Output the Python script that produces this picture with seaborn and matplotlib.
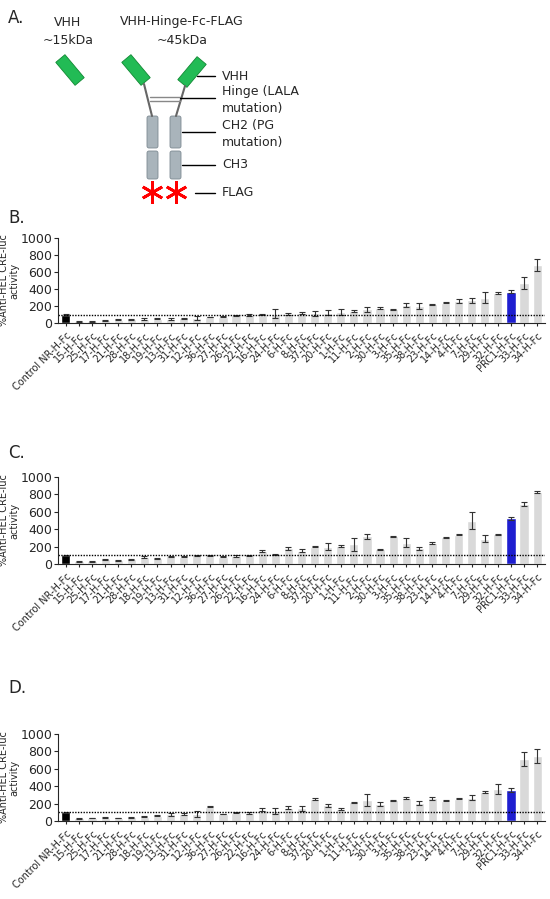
import numpy as np
import pandas as pd
import matplotlib
matplotlib.use("Agg")
import matplotlib.pyplot as plt
import seaborn as sns
from matplotlib.patches import Rectangle, FancyBboxPatch
from matplotlib import transforms

sns.set_style("ticks")
plt.rcParams['font.family'] = ['DejaVu Sans']

labels = ["Control NR-H-Fc","15-H-Fc","25-H-Fc","17-H-Fc","21-H-Fc","28-H-Fc","18-H-Fc","19-H-Fc",
          "13-H-Fc","31-H-Fc","12-H-Fc","36-H-Fc","27-H-Fc","26-H-Fc","22-H-Fc","16-H-Fc","24-H-Fc",
          "6-H-Fc","8-H-Fc","37-H-Fc","20-H-Fc","1-H-Fc","11-H-Fc","2-H-Fc","30-H-Fc","3-H-Fc",
          "35-H-Fc","38-H-Fc","23-H-Fc","14-H-Fc","4-H-Fc","7-H-Fc","29-H-Fc","32-H-Fc","PRC1-H-Fc",
          "33-H-Fc","34-H-Fc"]
vals_B = [100,20,20,30,40,45,45,50,45,55,60,70,75,90,95,100,110,110,120,115,120,130,140,160,180,160,
          210,200,220,240,260,270,300,350,370,470,680]
err_B = [5,5,3,5,5,5,8,5,8,5,25,5,8,10,10,10,50,10,10,30,30,30,10,25,10,8,20,40,8,8,25,30,60,10,20,70,70]
vals_C = [100,30,30,55,45,55,80,65,90,85,100,95,85,90,95,145,110,180,155,200,200,205,225,320,170,320,
          245,180,245,305,335,500,290,340,525,690,825]
err_C = [5,3,3,8,5,8,10,8,5,8,8,5,10,12,8,12,8,15,12,5,40,8,70,30,8,5,50,20,10,5,5,100,40,5,15,25,10]
vals_D = [100,30,35,40,35,45,50,60,75,80,80,165,80,95,90,130,115,155,145,255,180,140,215,240,195,240,
          265,210,260,235,255,270,330,370,355,710,750]
err_D = [5,5,5,5,5,5,8,8,15,15,30,8,5,8,8,15,40,12,30,15,15,15,5,70,20,5,15,25,15,5,5,25,10,60,25,80,80]

ylabel = "%Anti-HEL CRE-luc\nactivity"
colors = ["black"] + ["#d9d9d9"] * 33 + ["#0000ee", "#d9d9d9", "#d9d9d9"]

fig = plt.figure(figsize=(5.5, 8.99), dpi=100)
W, H = 550, 899

def panel(top, bottom, vals, errs, letter, ly):
    ax = fig.add_axes([58 / W, 1 - bottom / H, 487 / W, (bottom - top) / H])
    df = pd.DataFrame({"label": labels, "value": vals})
    sns.barplot(data=df, x="label", y="value", hue="label", palette=colors, legend=False,
                ax=ax, width=0.7, errorbar=None)
    ax.errorbar(np.arange(len(labels)), vals, yerr=errs, fmt="none", ecolor="#333333",
                elinewidth=0.8, capsize=2, capthick=0.8)
    ax.axhline(100, color="black", ls=(0, (1, 1)), lw=1)
    ax.set_ylim(0, 1000)
    ax.set_yticks([0, 200, 400, 600, 800, 1000])
    ax.tick_params(axis="y", labelsize=9, length=3, pad=1)
    ax.tick_params(axis="x", labelsize=7, length=2)
    ax.set_xlim(-0.6, len(labels) - 0.4)
    ax.set_xticks(range(len(labels)))
    ax.set_xticklabels(labels, rotation=45, ha="right", rotation_mode="anchor")
    ax.set_xlabel("")
    ax.set_ylabel(ylabel, fontsize=7, linespacing=1.0, labelpad=1)
    sns.despine(ax=ax)
    fig.text(8 / W, 1 - ly / H, letter, fontsize=12, va="center")
    return ax

panel(238, 323, vals_B, err_B, "B.", 218)
panel(477, 564, vals_C, err_C, "C.", 453)
panel(734, 821, vals_D, err_D, "D.", 688)

# Panel A schematic
axA = fig.add_axes([0, 1 - 205 / H, 1, 205 / H])
axA.set_xlim(0, 550)
axA.set_ylim(205, 0)
axA.axis("off")
axA.text(8, 18, "A.", fontsize=12, va="center")
axA.text(68, 22, "VHH", fontsize=9, ha="center", va="center")
axA.text(68, 40, "~15kDa", fontsize=9, ha="center", va="center")
axA.text(182, 22, "VHH-Hinge-Fc-FLAG", fontsize=9, ha="center", va="center")
axA.text(182, 40, "~45kDa", fontsize=9, ha="center", va="center")

def green(cx, cy, ang):
    r = Rectangle((cx - 6, cy - 15), 12, 30, facecolor="#22bb55", edgecolor="#118833", lw=0.6)
    t = transforms.Affine2D().rotate_deg_around(cx, cy, ang) + axA.transData
    r.set_transform(t)
    axA.add_patch(r)

green(70, 70, -40)
green(136, 70, -40)
green(192, 72, 40)
# arms
axA.plot([144, 152], [84, 116], color="#666666", lw=1.5)
axA.plot([185, 176], [86, 116], color="#666666", lw=1.5)
axA.plot([150, 180], [97, 97], color="#888888", lw=1)
axA.plot([150, 180], [101, 101], color="#888888", lw=1)
for x0 in (147, 170):
    axA.add_patch(FancyBboxPatch((x0, 116), 11, 32, boxstyle="round,pad=0,rounding_size=2",
                                 facecolor="#a9b4bb", edgecolor="#7d8a92", lw=0.6))
    axA.add_patch(FancyBboxPatch((x0, 151), 11, 28, boxstyle="round,pad=0,rounding_size=2",
                                 facecolor="#a9b4bb", edgecolor="#7d8a92", lw=0.6))
for sx in (152, 176):
    axA.plot(sx, 192, marker=(6, 2, 0), color="red", ms=16, mew=2)
lines = [(197, 76, "VHH"), (180, 98, "Hinge (LALA\nmutation)"), (182, 132, "CH2 (PG\nmutation)"),
         (182, 165, "CH3"), (195, 193, "FLAG")]
for x0, y0, t in lines:
    axA.plot([x0, 215], [y0, y0], color="black", lw=1)
    axA.text(222, y0 if "\n" not in t else y0 + 2, t, fontsize=9, va="center", linespacing=1.4)

fig.savefig("out.png", dpi=100)
